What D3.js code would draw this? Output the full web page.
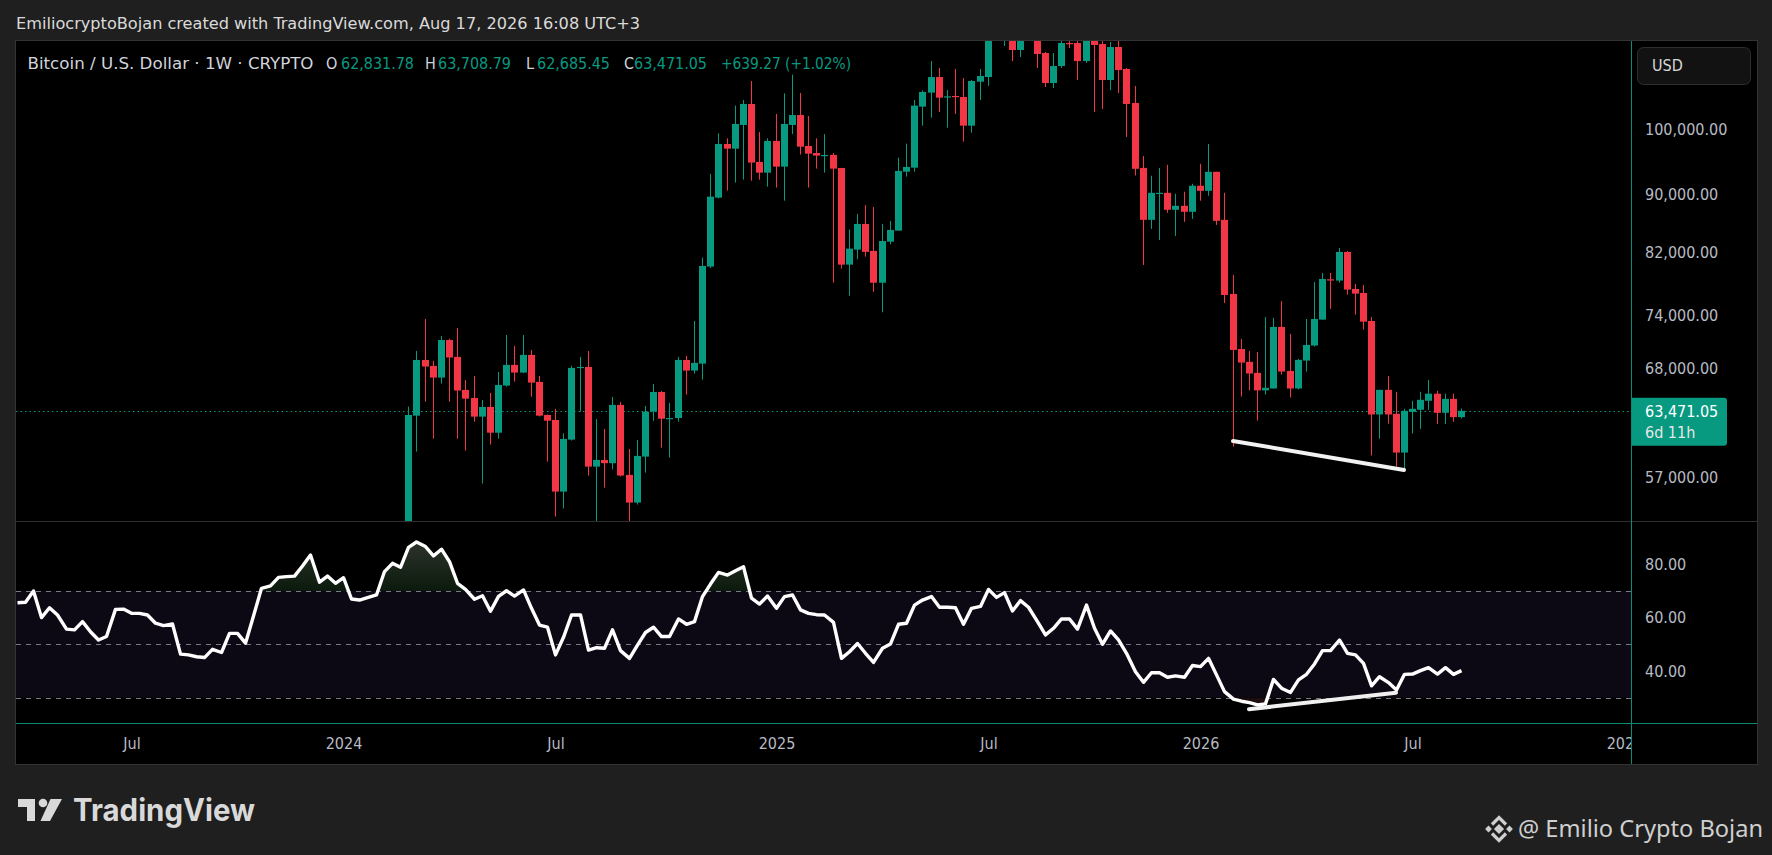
<!DOCTYPE html>
<html><head><meta charset="utf-8">
<script src="https://cdn.jsdelivr.net/npm/d3@7"></script>
<style>html,body{margin:0;padding:0;background:#1f1f1f;overflow:hidden}</style>
</head><body>
<svg id="c" width="1772" height="855"></svg>
<script>
// ---------- DATA ----------
const firstCandleWeek = 8; // weeks after 2024-01-01
const opens = [
51700,62980,68900,68240,66970,71150,69240,65650,64800,62880,
63870,61270,66110,68350,67510,69460,66500,63050,62540,55720,
60590,68060,68130,58010,58640,58330,64080,57240,54740,58950,
63390,65430,62670,62740,68900,67730,68490,80100,89520,97610,
96880,100650,104120,94830,93200,98090,94110,100650,102280,97300,
96200,95800,95900,93910,80350,82320,85800,82150,78040,83380,
84880,93350,93960,103670,106040,108740,105290,105470,105290,100540,
107930,108740,119800,117300,119400,113590,119300,117400,113040,107700,
110690,114880,114880,111580,118000,114690,108220,114140,110170,104280,
93920,86370,90130,90220,87780,88350,87500,91250,90510,93330,
86370,76640,70130,68690,67480,65600,65800,72670,67690,65800,
68830,70520,73530,78470,78310,82010,77260,76760,73370,63100,
65660,63170,59340,63360,63580,64510,65250,63270,64710,62831.78];
const highs = [
63900,69910,73610,68800,71620,71300,72545,66720,67150,64600,
65330,67580,71730,70470,71730,70020,67150,63100,63660,61210,
68240,69240,69910,62640,61640,64910,64390,59690,60560,63970,
66280,65540,64290,69240,69360,73370,81260,93000,99300,98510,
103840,104790,108050,99520,98510,102450,105920,109150,105980,102120,
98510,99190,96200,93910,85020,87180,88460,88170,85800,86210,
95490,97660,104790,106430,111580,110340,106490,110170,108570,108220,
110170,119900,123200,120200,119900,119600,124400,117600,113230,113040,
115500,115600,115800,119000,119500,115400,115070,115300,110340,107190,
95740,92740,93920,94390,90080,90370,91540,94540,97610,93330,
90220,79020,71270,69900,69800,73840,73720,75770,71850,69020,
73610,78140,79280,79280,82540,82140,77890,77760,73840,65660,
67150,65450,63680,64510,65450,66720,65560,65250,65250,63708.79];
const lows = [
50900,59430,64420,60690,66320,64420,60690,59530,62370,56450,
60110,60690,66000,66540,67450,64940,62900,58480,53520,54220,
60500,63390,57180,49000,56080,57760,57100,52550,54570,57450,
62470,59820,58860,62370,65150,67400,66750,79900,89400,90550,
91720,92160,92010,92160,91130,90990,89080,99190,95960,90990,
93810,93200,78040,79840,76420,81050,81400,76920,74410,83030,
84880,92610,93350,100540,101850,102780,100220,102450,97980,99410,
104790,107190,115700,114320,111580,112310,117200,110340,107010,106840,
110340,113950,108220,111230,102780,103280,106490,105980,98720,92780,
80300,85120,83620,87360,84160,86090,86510,89070,89790,85670,
75530,59910,64960,65600,62490,65170,65800,67300,64850,65700,
67620,70400,73530,74840,78060,76560,74120,72360,59060,60690,
62180,58010,57630,61190,61650,63580,62150,62150,62360,62685.45];
const closes = [
63050,68900,68170,66970,71150,69170,65580,64730,62880,63870,
61270,66180,68350,67510,69460,66430,62980,62470,55720,60660,
68020,68130,58010,58640,58330,64080,57180,54740,59020,63390,
65430,62670,62740,68900,67730,68570,80180,89660,97610,96880,
100810,104120,94730,93200,98090,94110,100810,102280,97190,96100,
95800,95900,93810,80350,82450,85800,82020,78040,83470,84970,
93460,94060,103840,106150,108740,105190,105410,105350,100540,108050,
108920,119800,117300,119400,113590,119300,117400,112860,107700,110690,
114880,114750,111580,118000,114510,108220,114140,109980,104120,93780,
86370,90220,90220,87780,88350,87500,91250,90510,93330,86230,
76510,70020,68610,67410,65600,65870,72670,67620,65800,68910,
70590,73610,78510,78390,82010,77180,76680,73290,63100,65660,
63100,59340,63470,63680,64610,65250,63270,64710,62831.78,63471.05];

const rsiFirstWeek = -40;
const rsiValues = [
65.6,65.8,70.0,60.0,63.7,61.0,55.7,55.4,58.5,54.7,
51.6,52.9,63.1,63.2,61.6,61.6,61.0,57.9,57.0,57.6,
46.3,46.0,45.3,45.0,48.1,46.9,54.1,54.1,50.4,60.6,
71.0,71.9,75.1,75.4,75.6,79.4,83.5,73.3,75.6,72.9,
75.0,67.0,66.6,67.5,68.5,77.3,80.4,78.9,86.4,88.4,
86.7,83.2,85.7,81.0,72.9,70.6,66.9,68.2,62.4,68.0,
70.1,68.1,70.4,63.5,57.2,56.4,46.0,52.6,61.0,61.0,
47.8,48.7,48.5,55.4,47.6,44.7,49.7,54.4,56.4,52.9,
52.9,59.5,57.5,58.5,67.9,72.6,77.0,76.0,77.6,79.1,
67.3,65.1,68.1,63.5,67.9,68.5,62.9,61.6,61.1,61.0,
58.2,44.7,47.2,50.3,46.6,43.2,48.5,50.1,57.5,57.9,
64.7,66.6,67.9,63.9,63.9,63.7,57.5,63.5,64.2,70.6,
67.6,69.4,62.5,66.4,63.9,58.5,53.5,56.0,59.5,59.5,
55.7,64.7,56.0,50.0,55.0,51.6,46.6,39.7,35.7,39.3,
39.3,37.6,38.1,37.6,42.0,41.6,44.7,38.5,32.2,29.4,
28.6,28.1,27.2,27.6,36.8,33.5,31.9,36.6,38.7,42.6,
47.6,47.6,51.6,46.6,46.0,42.8,34.4,37.8,35.6,32.8,
38.7,38.8,40.1,41.2,38.8,41.2,38.7,40.1];

const priceTicks = [57000, 68000, 74000, 82000, 90000, 100000];
const rsiTicks = [40, 60, 80];
const rsiLevels = [70, 50, 30];
const timeTickDates = ["2023-07-03","2024-01-01","2024-07-01","2025-01-06","2025-07-07","2026-01-05","2026-07-06","2027-01-04"];
const timeTickLabels = ["Jul","2024","Jul","2025","Jul","2026","Jul","2027"];
const priceDivWeeks = [109, 130];
const priceDivValues = [60460, 57700];
const rsiDivWeeks = [111, 129];
const rsiDivValues = [25.6, 31.8];
const lastPrice = 63471.05;
const countdown = "6d 11h";

// ---------- LAYOUT ----------
const L = 16, R = 1631, RA = 1757, T = 41, PB = 521, RB = 723, B = 764;
const GREEN = "#089981", RED = "#f23645";
const FONT = "'DejaVu Sans Condensed','DejaVu Sans',sans-serif";
const DAY = 864e5, week0 = Date.UTC(2024, 0, 1);
const wdate = i => new Date(week0 + i * 7 * DAY);

const x = d3.scaleUtc().domain([wdate(0), wdate(137)]).range([343, 1461]);
const yP = d3.scaleLog().domain([57000, 100000]).range([477.5, 129]);
const yR = d3.scaleLinear().domain([30, 70]).range([697.5, 591]);
const cx = i => Math.round(x(wdate(i)));

const svg = d3.select("#c");
const defs = svg.append("defs");
function clip(id, x0, y0, w, h) {
  defs.append("clipPath").attr("id", id).append("rect").attr("x", x0).attr("y", y0).attr("width", w).attr("height", h);
}
clip("cp-price", L, T, R - L, PB - T);
clip("cp-rsi", L, PB, R - L, RB - PB);
clip("cp-ob", L, PB, R - L, yR(70) - PB);
clip("cp-os", L, yR(30), R - L, RB - yR(30));
clip("cp-time", L, RB, R - L, B - RB);

const gOB = defs.append("linearGradient").attr("id", "g-ob").attr("gradientUnits", "userSpaceOnUse")
  .attr("x1", 0).attr("x2", 0).attr("y1", yR(92)).attr("y2", yR(70));
gOB.append("stop").attr("offset", 0).attr("stop-color", "#343832");
gOB.append("stop").attr("offset", 1).attr("stop-color", "#0b1a0c");
const gOS = defs.append("linearGradient").attr("id", "g-os").attr("gradientUnits", "userSpaceOnUse")
  .attr("x1", 0).attr("x2", 0).attr("y1", yR(30)).attr("y2", yR(10));
gOS.append("stop").attr("offset", 0).attr("stop-color", "#1c0b0d");
gOS.append("stop").attr("offset", 1).attr("stop-color", "#383232");

// backgrounds
svg.append("rect").attr("width", 1772).attr("height", 855).attr("fill", "#1f1f1f");
svg.append("rect").attr("x", L - 0.5).attr("y", T - 0.5).attr("width", RA - L + 1).attr("height", B - T + 1)
  .attr("fill", "#000").attr("stroke", "#333");

// header
svg.append("text").attr("x", 16).attr("y", 29).attr("fill", "#dadada")
  .style("font", "16px " + FONT).attr("textLength", 624).attr("lengthAdjust", "spacingAndGlyphs")
  .text("EmiliocryptoBojan created with TradingView.com, Aug 17, 2026 16:08 UTC+3");

// ---------- PRICE PANE ----------
const candles = opens.map((o, k) => ({ i: k + firstCandleWeek, o, h: highs[k], l: lows[k], c: closes[k] }));
const gp = svg.append("g").attr("clip-path", "url(#cp-price)");

gp.append("line").attr("x1", L).attr("x2", R).attr("y1", Math.round(yP(lastPrice)) + 0.5).attr("y2", Math.round(yP(lastPrice)) + 0.5)
  .attr("stroke", GREEN).attr("stroke-dasharray", "1.5 3");

const cg = gp.selectAll("g.c").data(candles).join("g");
cg.append("rect").attr("x", d => cx(d.i)).attr("width", 1)
  .attr("y", d => yP(d.h)).attr("height", d => Math.max(1, yP(d.l) - yP(d.h)))
  .attr("fill", d => d.c >= d.o ? GREEN : RED);
cg.append("rect").attr("x", d => cx(d.i) - 3).attr("width", 7)
  .attr("y", d => yP(Math.max(d.o, d.c)))
  .attr("height", d => Math.max(1.2, Math.abs(yP(d.o) - yP(d.c))))
  .attr("fill", d => d.c >= d.o ? GREEN : RED);

gp.append("line")
  .attr("x1", cx(priceDivWeeks[0])).attr("y1", yP(priceDivValues[0]))
  .attr("x2", cx(priceDivWeeks[1])).attr("y2", yP(priceDivValues[1]))
  .attr("stroke", "#f2f2f2").attr("stroke-width", 4).attr("stroke-linecap", "round");

// legend
const leg = svg.append("g").style("font", "16px " + FONT);
leg.append("text").attr("x", 27.5).attr("y", 69).attr("fill", "#d1d4dc").attr("textLength", 286).attr("lengthAdjust", "spacingAndGlyphs")
  .text("Bitcoin / U.S. Dollar · 1W · CRYPTO");
const legItems = [["O", 326, 341, "62,831.78"], ["H", 425, 438, "63,708.79"], ["L", 526, 537, "62,685.45"], ["C", 624, 634, "63,471.05"]];
legItems.forEach(([k, xk, xv, v]) => {
  leg.append("text").attr("x", xk).attr("y", 69).attr("fill", "#d1d4dc").text(k);
  leg.append("text").attr("x", xv).attr("y", 69).attr("fill", GREEN).attr("textLength", 73).attr("lengthAdjust", "spacingAndGlyphs").text(v);
});
leg.append("text").attr("x", 721).attr("y", 69).attr("fill", GREEN).attr("textLength", 130).attr("lengthAdjust", "spacingAndGlyphs").text("+639.27 (+1.02%)");

// price axis
const pa = svg.append("g").attr("transform", `translate(${R},0)`)
  .call(d3.axisRight(yP).tickValues(priceTicks).tickFormat(d3.format(",.2f")).tickSize(0).tickPadding(14));
pa.select(".domain").remove();
pa.selectAll("text").attr("fill", "#b8bbc4").style("font", "16px " + FONT);

// USD button
svg.append("rect").attr("x", 1637.5).attr("y", 47.5).attr("width", 113).attr("height", 37).attr("rx", 6)
  .attr("fill", "#121212").attr("stroke", "#2e2e2e");
svg.append("text").attr("x", 1652).attr("y", 71).attr("fill", "#d8d8d8").style("font", "16px " + FONT).text("USD");

// last price label
const ly = yP(lastPrice);
svg.append("path").attr("d", `M${R},${ly - 13} H${1724} Q1727,${ly - 13} 1727,${ly - 10} V${ly + 32} Q1727,${ly + 35} 1724,${ly + 35} H${R} Z`)
  .attr("fill", GREEN);
svg.append("text").attr("x", 1645).attr("y", ly + 6).attr("fill", "#ffffff").style("font", "16px " + FONT).text(d3.format(",.2f")(lastPrice));
svg.append("text").attr("x", 1645).attr("y", ly + 27).attr("fill", "#e6e6e6").style("font", "16px " + FONT).text(countdown);

// ---------- RSI PANE ----------
const gr = svg.append("g").attr("clip-path", "url(#cp-rsi)");
gr.append("rect").attr("x", L).attr("y", yR(70)).attr("width", R - L).attr("height", yR(30) - yR(70))
  .attr("fill", "rgba(126,87,194,0.1)");
rsiLevels.forEach(v => {
  gr.append("line").attr("x1", L).attr("x2", R).attr("y1", Math.round(yR(v)) + 0.5).attr("y2", Math.round(yR(v)) + 0.5)
    .attr("stroke", "#787b86").attr("stroke-dasharray", "5 5");
});
const rsiData = rsiValues.map((v, k) => ({ i: k + rsiFirstWeek, v }));
const rx = d => cx(d.i) + 0.5;
gr.append("path").datum(rsiData).attr("clip-path", "url(#cp-ob)").attr("fill", "url(#g-ob)")
  .attr("d", d3.area().x(rx).y0(yR(70)).y1(d => yR(d.v)));
gr.append("path").datum(rsiData).attr("clip-path", "url(#cp-os)").attr("fill", "url(#g-os)")
  .attr("d", d3.area().x(rx).y0(yR(30)).y1(d => yR(d.v)));
gr.append("path").datum(rsiData).attr("fill", "none").attr("stroke", "#ffffff").attr("stroke-width", 3.4)
  .attr("stroke-linejoin", "round").attr("d", d3.line().x(rx).y(d => yR(d.v)));
gr.append("line")
  .attr("x1", cx(rsiDivWeeks[0])).attr("y1", yR(rsiDivValues[0]))
  .attr("x2", cx(rsiDivWeeks[1])).attr("y2", yR(rsiDivValues[1]))
  .attr("stroke", "#f0f0f0").attr("stroke-width", 4).attr("stroke-linecap", "round");

const ra = svg.append("g").attr("transform", `translate(${R},0)`)
  .call(d3.axisRight(yR).tickValues(rsiTicks).tickFormat(d3.format(".2f")).tickSize(0).tickPadding(14));
ra.select(".domain").remove();
ra.selectAll("text").attr("fill", "#b8bbc4").style("font", "16px " + FONT);

// separators
svg.append("line").attr("x1", L).attr("x2", RA).attr("y1", PB + 0.5).attr("y2", PB + 0.5).attr("stroke", "#2f2f2f");
svg.append("line").attr("x1", L).attr("x2", RA).attr("y1", RB + 0.5).attr("y2", RB + 0.5).attr("stroke", "#0b8a76");
svg.append("line").attr("x1", R + 0.5).attr("x2", R + 0.5).attr("y1", T).attr("y2", B).attr("stroke", "#0b8a76");

// ---------- TIME AXIS ----------
const tickDates = timeTickDates.map(s => new Date(s + "T00:00:00Z"));
const ta = svg.append("g").attr("clip-path", "url(#cp-time)").append("g").attr("transform", `translate(0,${RB})`)
  .call(d3.axisBottom(x).tickValues(tickDates).tickFormat((d, k) => timeTickLabels[k]).tickSize(0).tickPadding(15));
ta.select(".domain").remove();
ta.selectAll("text").attr("fill", "#b8bbc4").style("font", "16px " + FONT)
  .attr("font-weight", (d, k) => /^\d/.test(timeTickLabels[k]) ? "bold" : "normal")
  .attr("transform", d => `translate(${Math.round(x(d)) - x(d) + 0.5},0)`);

// ---------- WATERMARKS ----------
const wm = svg.append("g").attr("fill", "#d9d9d9");
wm.append("path").attr("d", "M18,799 H35 V821 H27 V807 H18 Z");
wm.append("circle").attr("cx", 43).attr("cy", 803).attr("r", 4.3);
wm.append("path").attr("d", "M50.5,799 H62 L50,821 H40.5 Z");
wm.append("text").attr("x", 73).attr("y", 821).style("font", "bold 31px Inter, 'DejaVu Sans', sans-serif")
  .attr("textLength", 182).attr("lengthAdjust", "spacingAndGlyphs").text("TradingView");

const bi = svg.append("g").attr("fill", "#cfcfcf").attr("transform", "translate(1499,829)");
[[0, 0, 3.6], [-10.5, 0, 2.4], [10.5, 0, 2.4]].forEach(([a, b, s]) =>
  bi.append("rect").attr("x", a - s).attr("y", b - s).attr("width", 2 * s).attr("height", 2 * s).attr("transform", `rotate(45,${a},${b})`));
bi.append("path").attr("d", "M-7,-4.5 L0,-11.5 L7,-4.5").attr("fill", "none").attr("stroke", "#cfcfcf").attr("stroke-width", 3.2);
bi.append("path").attr("d", "M-7,4.5 L0,11.5 L7,4.5").attr("fill", "none").attr("stroke", "#cfcfcf").attr("stroke-width", 3.2);
svg.append("text").attr("x", 1518).attr("y", 837).attr("fill", "#cfcfcf")
  .style("font", "23px 'Noto Sans', 'Open Sans', sans-serif").attr("textLength", 245).attr("lengthAdjust", "spacingAndGlyphs")
  .text("@ Emilio Crypto Bojan");
</script>
</body></html>
